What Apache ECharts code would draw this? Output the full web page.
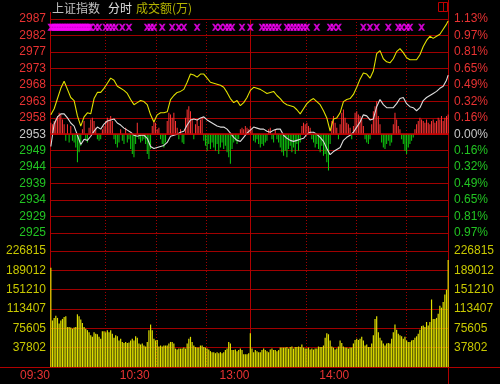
<!DOCTYPE html>
<html><head><meta charset="utf-8">
<script src="https://cdn.jsdelivr.net/npm/echarts@6/dist/echarts.min.js"></script>
<style>html,body{margin:0;padding:0;background:#000;}#c{width:500px;height:384px;}</style>
</head><body><div id="c"></div><script>
// ---- tick labels ----
const timeLabels = ['09:30', '10:30', '13:00', '14:00'];
const priceLabels = ['2925','2929','2934','2939','2944','2949','2953','2958','2963','2968','2973','2977','2982','2987'];
const pctLabels = ['0.97%','0.81%','0.65%','0.49%','0.32%','0.16%','0.00%','0.16%','0.32%','0.49%','0.65%','0.81%','0.97%','1.13%'];
const volLabels = ['37802','75605','113407','151210','189012','226815'];
const titleParts = ['上证指数', '分时', '成交额(万)'];

// ---- series values ----
// index change in % vs previous close, every 2 minutes (last = close)
const whitePct = [
 -0.12,0.10,0.17,0.20,0.20,0.16,0.11,0.08,-0.01,-0.10,
 -0.05,-0.06,-0.02,0.03,0.07,0.05,0.10,0.13,0.14,0.15,
 0.11,0.09,0.06,0.04,0.02,-0.01,-0.02,-0.01,-0.01,-0.04,
 -0.12,-0.14,-0.13,-0.12,-0.11,-0.08,-0.02,-0.01,0.00,0.02,
 0.03,0.09,0.14,0.15,0.14,0.16,0.17,0.14,0.12,0.10,
 0.08,0.07,0.07,0.05,0.01,-0.03,-0.06,-0.07,-0.03,0.01,
 0.04,0.07,0.06,0.05,0.05,0.03,0.02,0.04,0.05,0.05,
 -0.01,-0.04,-0.06,-0.07,-0.06,-0.05,-0.04,0.00,0.02,0.02,
 0.00,-0.03,-0.07,-0.14,-0.20,-0.17,-0.15,-0.13,-0.06,-0.03,
 -0.01,0.02,0.07,0.12,0.19,0.18,0.14,0.15,0.27,0.34,
 0.29,0.26,0.26,0.26,0.30,0.35,0.36,0.30,0.27,0.26,
 0.23,0.26,0.33,0.36,0.38,0.40,0.42,0.45,0.47,0.53,0.58
];
const yellowPct = [
 0.19,0.25,0.35,0.45,0.52,0.44,0.36,0.33,0.18,0.08,
 0.17,0.21,0.20,0.35,0.41,0.41,0.45,0.50,0.55,0.53,
 0.47,0.45,0.43,0.40,0.34,0.29,0.31,0.33,0.32,0.29,
 0.19,0.12,0.19,0.21,0.21,0.22,0.34,0.38,0.41,0.42,
 0.44,0.51,0.59,0.58,0.56,0.59,0.59,0.55,0.51,0.50,
 0.49,0.48,0.46,0.41,0.35,0.31,0.33,0.28,0.31,0.36,
 0.43,0.46,0.45,0.44,0.42,0.40,0.41,0.42,0.38,0.35,
 0.31,0.29,0.28,0.27,0.24,0.20,0.25,0.30,0.33,0.35,
 0.32,0.29,0.23,0.16,0.03,0.15,0.16,0.21,0.32,0.34,
 0.35,0.39,0.46,0.54,0.60,0.59,0.55,0.62,0.79,0.82,
 0.74,0.71,0.70,0.74,0.81,0.84,0.80,0.75,0.73,0.73,
 0.73,0.78,0.86,0.92,0.96,0.94,0.96,0.98,1.03,1.08,1.11
];
// buy/sell strength per minute (red up, green down)
const strength = [
 7,6,8,9,11,13,12,9,6,-4, 6,-5,5,-4,-5,-8,-17,-11,-7,3,
 8,-3,-5,4,9,10,8,4,-3,-4, -3,3,5,8,10,9,11,8,-3,-6,
 -8,-5,3,-4,-6,4,-5,-3,-9,-12, -14,-6,7,-3,-5,-4,-3,-6,-12,-15,
 -9,5,8,7,3,4,-3,-6,-8,-5, 8,13,12,10,13,8,4,-3,3,-5,
 -6,10,15,17,14,9,-3,6,9,5, 9,10,-4,-7,-10,-6,-9,-5,-8,-10,
 -6,-12,-8,-5,-9,-7,-11,-14,-18,-9, -5,-4,-6,-3,3,4,3,5,4,3,
 5,3,-4,-5,-3,-6,-8,-6,-7,-5, -4,3,4,-3,-5,3,-3,-5,-8,-11,
 -13,-10,-14,-9,-7,-11,-8,-12,-6,-10, -5,5,7,6,7,5,4,-3,-5,-8,
 -6,-9,-11,-7,-13,-12,-17,-22,-6,8, 11,7,4,-3,6,13,15,10,7,6,
 4,-3,5,13,14,12,11,9,5,-3, -5,-6,-3,6,14,17,20,11,6,-5,
 -8,-9,-6,-4,-7,-5,6,13,9,5, 3,-3,-6,-10,-12,-8,-6,-4,-2,3,
 6,8,10,9,8,7,9,7,6,8, 9,7,8,10,9,11,8,10,11,12
];
// turnover per minute (万)
const volume = [
 194000,91000,96000,100000,96000,85000,91000,94000,98000,99000,
 78000,78000,77000,75000,77000,78000,103000,99000,93000,86000,
 78000,75000,72000,68000,62000,59000,68000,65000,64000,59000,
 55000,70000,70000,68000,72000,68000,72000,65000,57000,62000,
 60000,52000,55000,49000,47000,49000,47000,48000,52000,55000,
 52000,60000,57000,46000,44000,46000,42000,40000,49000,72000,
 83000,72000,55000,52000,53000,40000,42000,40000,42000,42000,
 42000,46000,49000,49000,46000,36000,34000,36000,36000,36000,
 38000,36000,46000,55000,59000,49000,42000,39000,38000,38000,
 42000,42000,39000,38000,36000,34000,31000,29000,29000,27000,
 29000,27000,29000,27000,29000,33000,36000,49000,46000,33000,
 33000,34000,31000,33000,36000,33000,25000,25000,25000,27000,
 66000,36000,29000,33000,31000,29000,29000,33000,36000,33000,31000,
 29000,34000,36000,33000,33000,31000,33000,38000,38000,38000,
 38000,39000,36000,39000,40000,36000,39000,39000,40000,39000,
 44000,38000,36000,36000,38000,34000,36000,34000,36000,36000,
 40000,39000,39000,42000,57000,66000,64000,52000,40000,38000,
 34000,36000,40000,52000,47000,40000,38000,38000,36000,38000,
 38000,46000,53000,55000,53000,55000,59000,52000,42000,44000,
 39000,39000,46000,62000,94000,99000,68000,57000,52000,46000,
 42000,46000,47000,46000,55000,68000,83000,73000,65000,62000,
 60000,55000,59000,52000,49000,49000,52000,53000,57000,60000,
 65000,73000,80000,81000,78000,88000,81000,88000,132000,94000,
 94000,96000,104000,120000,116000,127000,142000,151000,209000
];
// minutes with signal marks
const signalMinutes = [0,1,2,3,4,5,6,7,8,9,10,11,12,13,14,15,16,17,18,19,20,21,22,23,24,
 27,29,33,35,37,39,43,47,58,60,62,67,73,77,80,88,99,102,105,107,109,115,120,
 127,129,131,133,135,137,142,144,146,148,150,152,154,160,168,170,173,188,192,196,203,
 209,211,214,216,223];

// ---- constants ----
const PCT_STEP = 1.13 / 7;          // % per price grid step
const VOL_MAX = 226815;
const MARK_LEVEL = 6.5;             // in grid steps
const MINUTES = 240;
const RED = '#e83232', GREEN = '#22c422', GREY = '#c8c8c8', VOLC = '#c8c800';
const GRIDC = '#a00000';
const FONT = '"Liberation Sans", Arial, sans-serif';
const CJK = '"Noto Sans CJK SC", sans-serif';
const dashedAt = [33, 64, 94, 154, 184, 214];
const solidAt = [120];

const sideColor = v => { v = Number(v); return v > 0 ? RED : (v < 0 ? GREEN : GREY); };

const chart = echarts.init(document.getElementById('c'), null, {renderer: 'canvas'});

const lineData = arr => arr.map((p, k) => [Math.min(2 * k, MINUTES - 1) + 0.5, p / PCT_STEP]);

const option = {
  backgroundColor: '#000',
  animation: false,
  grid: [
    {left: 50, right: 51, top: 19, height: 214},
    {left: 50, right: 51, top: 251, height: 116}
  ],
  xAxis: [
    {type: 'value', gridIndex: 0, min: 0, max: MINUTES, show: false},
    {type: 'value', gridIndex: 1, min: 0, max: MINUTES, interval: 60,
     axisLine: {show: false}, axisTick: {show: false}, splitLine: {show: false},
     axisLabel: {show: true, align: 'right', margin: 3, color: RED, fontSize: 12, fontFamily: FONT,
       formatter: v => timeLabels[Math.round(v / 60)] || ''}}
  ],
  yAxis: [
    {type: 'value', gridIndex: 0, position: 'left', min: -6, max: 7, interval: 1,
     axisLine: {show: false}, axisTick: {show: false},
     splitLine: {show: true, lineStyle: {color: GRIDC, width: 1}},
     axisLabel: {margin: 4, fontSize: 12, fontFamily: FONT, color: v => sideColor(v),
       formatter: v => priceLabels[Math.round(v) + 6]}},
    {type: 'value', gridIndex: 0, position: 'right', min: -6, max: 7, interval: 1,
     axisLine: {show: false}, axisTick: {show: false}, splitLine: {show: false},
     axisLabel: {margin: 5, fontSize: 12, fontFamily: FONT, color: v => sideColor(v),
       formatter: v => pctLabels[Math.round(v) + 6]}},
    {type: 'value', gridIndex: 0, min: -60, max: 70, show: false},
    {type: 'value', gridIndex: 1, position: 'left', min: 0, max: VOL_MAX, interval: VOL_MAX / 6,
     axisLine: {show: false}, axisTick: {show: false},
     splitLine: {show: true, lineStyle: {color: GRIDC, width: 1}},
     axisLabel: {margin: 4, fontSize: 12, fontFamily: FONT, color: VOLC,
       formatter: v => { const i = Math.round(v / (VOL_MAX / 6)); return i === 0 ? '' : volLabels[i - 1]; }}},
    {type: 'value', gridIndex: 1, position: 'right', min: 0, max: VOL_MAX, interval: VOL_MAX / 6,
     axisLine: {show: false}, axisTick: {show: false}, splitLine: {show: false},
     axisLabel: {margin: 5, fontSize: 12, fontFamily: FONT, color: VOLC,
       formatter: v => { const i = Math.round(v / (VOL_MAX / 6)); return i === 0 ? '' : volLabels[i - 1]; }}}
  ],
  series: [
    {type: 'bar', xAxisIndex: 0, yAxisIndex: 2, barWidth: 1, silent: true,
     data: strength.map((v, i) => [i + 0.5, v]),
     itemStyle: {color: p => p.value[1] >= 0 ? '#ff3434' : '#10d010'},
     markLine: {silent: true, symbol: 'none', label: {show: false},
       lineStyle: {color: '#c80000', width: 1.5, type: 'solid'}, data: [{yAxis: 0}]}},
    {type: 'bar', xAxisIndex: 1, yAxisIndex: 3, barWidth: 1.2, silent: true,
     data: volume.map((v, i) => [i + 0.5, v]),
     itemStyle: {color: '#dede00'}},
    {type: 'line', xAxisIndex: 0, yAxisIndex: 0, showSymbol: false, silent: true,
     data: lineData(whitePct), lineStyle: {color: '#dcdcdc', width: 1.1}},
    {type: 'line', xAxisIndex: 0, yAxisIndex: 0, showSymbol: false, silent: true,
     data: lineData(yellowPct), lineStyle: {color: '#e0e000', width: 1.1}},
    {type: 'scatter', xAxisIndex: 0, yAxisIndex: 0, silent: true,
     symbol: 'path://M0,0 L3,0 L5,2.5 L7,0 L10,0 L6.5,5 L10,10 L7,10 L5,7.5 L3,10 L0,10 L3.5,5 Z',
     symbolSize: 7, itemStyle: {color: '#ff00ff'},
     data: signalMinutes.map(m => [m + 0.5, MARK_LEVEL])}
  ]
};
chart.setOption(option);

// ---- frame & separators placed through the axes ----
const px = v => chart.convertToPixel({xAxisIndex: 0}, v);
const yTop = chart.convertToPixel({yAxisIndex: 0}, 7);
const yBot = chart.convertToPixel({yAxisIndex: 3}, 0);
const snap = v => Math.round(v) + 0.5;
const g = [];
dashedAt.forEach(m => {
  const x = snap(px(m));
  g.push({type: 'line', silent: true, z: 1, shape: {x1: x, y1: yTop, x2: x, y2: yBot},
    style: {stroke: GRIDC, lineWidth: 1, lineDash: [1, 2]}});
});
solidAt.forEach(m => {
  const x = snap(px(m));
  g.push({type: 'line', silent: true, z: 1, shape: {x1: x, y1: yTop, x2: x, y2: yBot},
    style: {stroke: '#b00000', lineWidth: 1}});
});
const xl = snap(px(0)) , xr = snap(px(MINUTES)) - 1;
g.push({type: 'line', silent: true, shape: {x1: xl, y1: 12, x2: xl, y2: yBot}, style: {stroke: '#b00000', lineWidth: 1}});
g.push({type: 'line', silent: true, shape: {x1: xr, y1: 0, x2: xr, y2: 384}, style: {stroke: '#b00000', lineWidth: 1}});
g.push({type: 'line', silent: true, shape: {x1: 0, y1: snap(yBot), x2: 500, y2: snap(yBot)}, style: {stroke: '#b00000', lineWidth: 1}});
// title
g.push({type: 'text', left: 52, top: 2, silent: true, style: {text: titleParts[0], fill: '#c0c0c0', font: '12px ' + CJK}});
g.push({type: 'text', left: 108, top: 2, silent: true, style: {text: titleParts[1], fill: '#e0e0e0', font: '12px ' + CJK}});
g.push({type: 'text', left: 136, top: 2, silent: true, style: {text: titleParts[2], fill: '#b4b400', font: '12px ' + CJK}});
// top-right icon
g.push({type: 'rect', silent: true, shape: {x: 438.5, y: 2.5, width: 9, height: 9}, style: {fill: 'none', stroke: '#c00000', lineWidth: 1}});
g.push({type: 'line', silent: true, shape: {x1: 443.5, y1: 3, x2: 443.5, y2: 11}, style: {stroke: '#c00000', lineWidth: 1}});
chart.setOption({graphic: g});
</script></body></html>
